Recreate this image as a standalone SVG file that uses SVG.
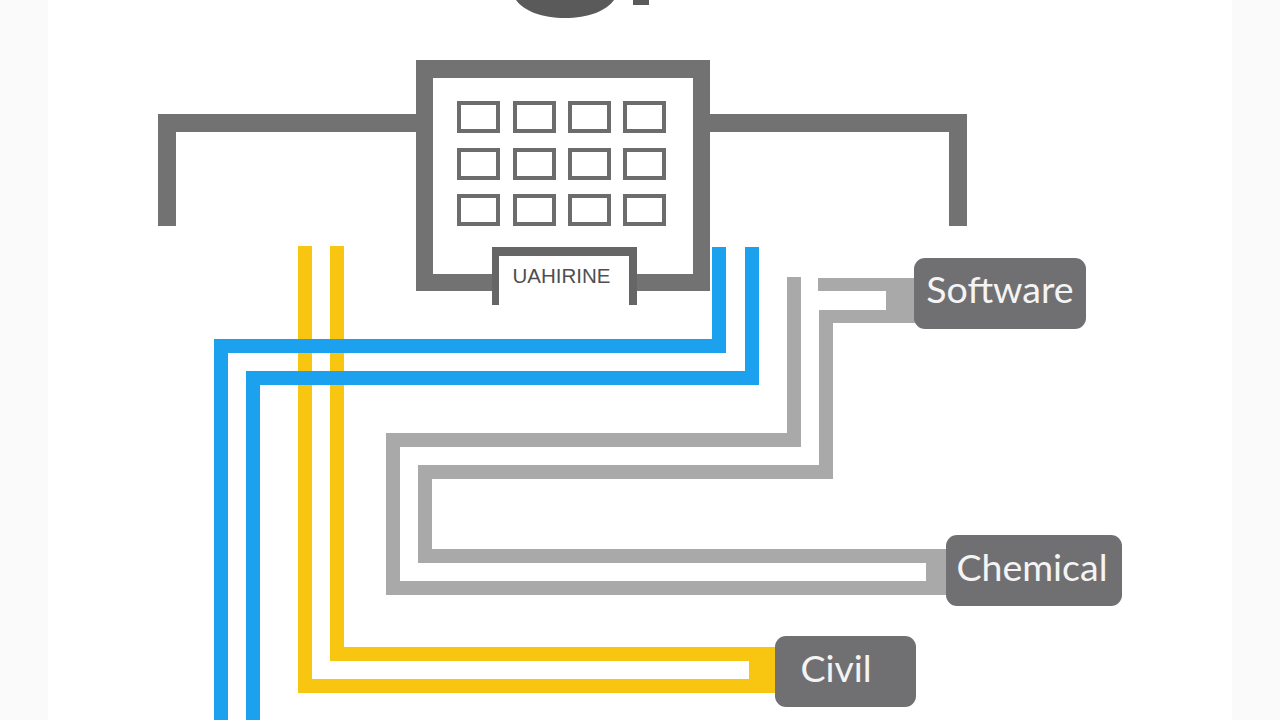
<svg xmlns="http://www.w3.org/2000/svg" width="1280" height="720" viewBox="0 0 1280 720">
<style>
.wire{fill:none;stroke-width:14;stroke-linejoin:miter}
.blue{stroke:#1ba1ee}
.yellow{stroke:#f8c511}
.gray{stroke:#a9a9a9}
.stub{fill:#a9a9a9}
.dark{fill:#727272}
.win{fill:#fff;stroke:#6c6c6c;stroke-width:4}
.node{fill:#707072}
.lbl{font-family:"Lato","Open Sans",sans-serif;font-size:37.5px;fill:#f4f4f4;text-anchor:middle}
</style>
<rect width="1280" height="720" fill="#fff"/>
<rect x="0" y="0" width="48" height="720" fill="#fafafa"/>
<rect x="1232" y="0" width="48" height="720" fill="#fafafa"/>
<g id="top-fragment">
<path d="M516 0H614C606 11 588 18 565 18C542 18 524 11 516 0Z" fill="#5a5a5a"/>
<rect x="633" y="0" width="16" height="5" fill="#5a5a5a"/>
</g>
<g id="building">
<path class="dark" d="M158 226V114H416V60H710V114H967V226H949V132H710V291H416V132H176V226Z"/>
<rect x="433" y="78" width="260" height="196" fill="#fff"/>
<rect class="win" x="459" y="103" width="39" height="28"/>
<rect class="win" x="515" y="103" width="39" height="28"/>
<rect class="win" x="570" y="103" width="39" height="28"/>
<rect class="win" x="625" y="103" width="39" height="28"/>
<rect class="win" x="459" y="150" width="39" height="28"/>
<rect class="win" x="515" y="150" width="39" height="28"/>
<rect class="win" x="570" y="150" width="39" height="28"/>
<rect class="win" x="625" y="150" width="39" height="28"/>
<rect class="win" x="459" y="196" width="39" height="28"/>
<rect class="win" x="515" y="196" width="39" height="28"/>
<rect class="win" x="570" y="196" width="39" height="28"/>
<rect class="win" x="625" y="196" width="39" height="28"/>
<path d="M492 305V247H637V305H629V256H499V305Z" fill="#666"/>
<rect x="499" y="256" width="130" height="49" fill="#fff"/>
<text x="561.5" y="283" font-family="'Liberation Sans',sans-serif" font-size="20.5" fill="#4f4f4f" text-anchor="middle">UAHIRINE</text>
</g>
<g id="connectors">
<path class="wire yellow" d="M305 246V686H776"/>
<path class="wire yellow" d="M337 246V654H776"/>
<rect x="749" y="648" width="27" height="44" fill="#f8c511"/>
<path d="M719 247V346H221V720" class="wire blue"/>
<path d="M752 247V378H253V720" class="wire blue"/>
<path class="wire gray" d="M794 277V440H393V588H946"/>
<path class="wire gray" d="M826 316V472H425V556H946"/>
<path class="stub" d="M818 278H915V323H819V310H886V291H818Z"/>
<rect class="stub" x="926" y="560" width="21" height="30"/>
</g>
<g id="node-software">
<rect class="node" x="914" y="258" width="172" height="71" rx="11"/>
<text class="lbl" x="1000" y="303">Software</text>
</g>
<g id="node-chemical">
<rect class="node" x="946" y="535" width="176" height="71" rx="11"/>
<text class="lbl" x="1032" y="581">Chemical</text>
</g>
<g id="node-civil">
<rect class="node" x="775" y="636" width="141" height="71" rx="11"/>
<text class="lbl" x="836" y="682">Civil</text>
</g>
</svg>
